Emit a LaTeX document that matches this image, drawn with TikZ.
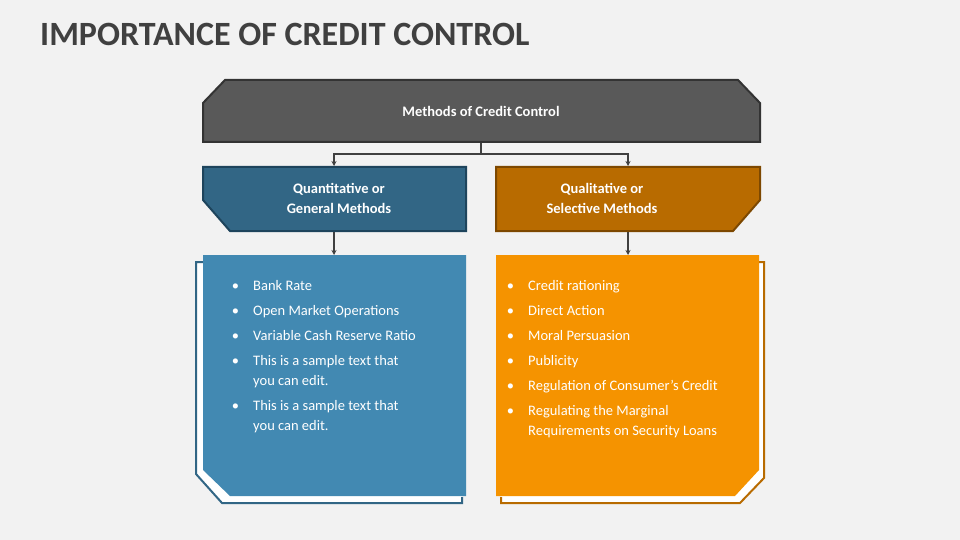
\documentclass[tikz,border=0pt]{standalone}
\usepackage{fontspec}
\setmainfont{Carlito}
\usetikzlibrary{arrows.meta}
\definecolor{bdark}{RGB}{50,102,133}
\definecolor{bdarker}{RGB}{30,68,92}
\definecolor{blight}{RGB}{66,137,178}
\definecolor{odark}{RGB}{184,107,0}
\definecolor{odarker}{RGB}{125,72,0}
\definecolor{olight}{RGB}{245,147,0}
\begin{document}
\begin{tikzpicture}[x=1pt,y=-1pt,
  hdr/.style={font=\bfseries\fontsize{14.5}{20}\selectfont,text=white,align=center},
  lst/.style={text=white,anchor=north west,inner sep=0},
  conn/.style={draw=black!75,line width=1.3pt,-{Stealth[length=5pt,width=5pt]}}]
\fill[black!5] (0,0) rectangle (960,540);
\useasboundingbox (0,0) rectangle (960,540);
\node[anchor=base west,font=\bfseries\fontsize{34}{34}\selectfont,text=black!75,inner sep=0] (title) at (40,46) {IMPORTANCE OF CREDIT CONTROL};
% top
\draw[fill=black!65,draw=black!80,line width=2pt] (203,142)--(203,103)--(225,80)--(738,80)--(760,103)--(760,142)--cycle;
\node[hdr] (top) at (481,111) {Methods of Credit Control};
% mid boxes
\draw[fill=bdark,draw=bdarker,line width=2pt] (203,167)--(466,167)--(466,231)--(230,231)--(203,200)--cycle;
\node[hdr] (q1) at (339,198) {Quantitative or\\General Methods};
\draw[fill=odark,draw=odarker,line width=2pt] (496,167)--(760,167)--(760,200)--(733,231)--(496,231)--cycle;
\node[hdr] (q2) at (602,198) {Qualitative or\\Selective Methods};
\coordinate (m) at (481,154);
\coordinate (bl) at (334,255);
\coordinate (br) at (628,255);
\draw[draw=black!75,line width=1.3pt] (481,143)--(m);
\draw[conn] (m) -| (334,166);
\draw[conn] (m) -| (628,166);
\draw[conn] (334,232) -- (bl);
\draw[conn] (628,232) -- (br);
% lower blue
\draw[fill=white,draw=bdark,line width=2pt] (203,262)--(196,262)--(196,474)--(222,503)--(462,503)--(462,497);
\fill[blight] (203,255)--(466,255)--(466,496)--(230,496)--(203,470)--cycle;
% lower orange
\draw[fill=white,draw=odark,line width=2pt] (758,262)--(764,262)--(764,478)--(740,503)--(501,503)--(501,497);
\fill[olight] (496,255)--(759,255)--(759,470)--(735,496)--(496,496)--cycle;
\node[lst] (l1) at (226,280) {%
\begin{minipage}{230pt}\fontsize{14.5}{20}\selectfont
\setlength\leftmargini{27pt}\setlength\labelsep{14pt}
\begin{itemize}\setlength\itemsep{5pt}\setlength\parskip{0pt}\setlength\topsep{0pt}
\item Bank Rate
\item Open Market Operations
\item Variable Cash Reserve Ratio
\item This is a sample text that\\ you can edit.
\item This is a sample text that\\ you can edit.
\end{itemize}\end{minipage}};
\node[lst] (l2) at (501,280) {%
\begin{minipage}{250pt}\fontsize{14.5}{20}\selectfont
\setlength\leftmargini{27pt}\setlength\labelsep{14pt}
\begin{itemize}\setlength\itemsep{5pt}\setlength\parskip{0pt}
\item Credit rationing
\item Direct Action
\item Moral Persuasion
\item Publicity
\item Regulation of Consumer’s Credit
\item Regulating the Marginal\\ Requirements on Security Loans
\end{itemize}\end{minipage}};
\end{tikzpicture}
\end{document}
